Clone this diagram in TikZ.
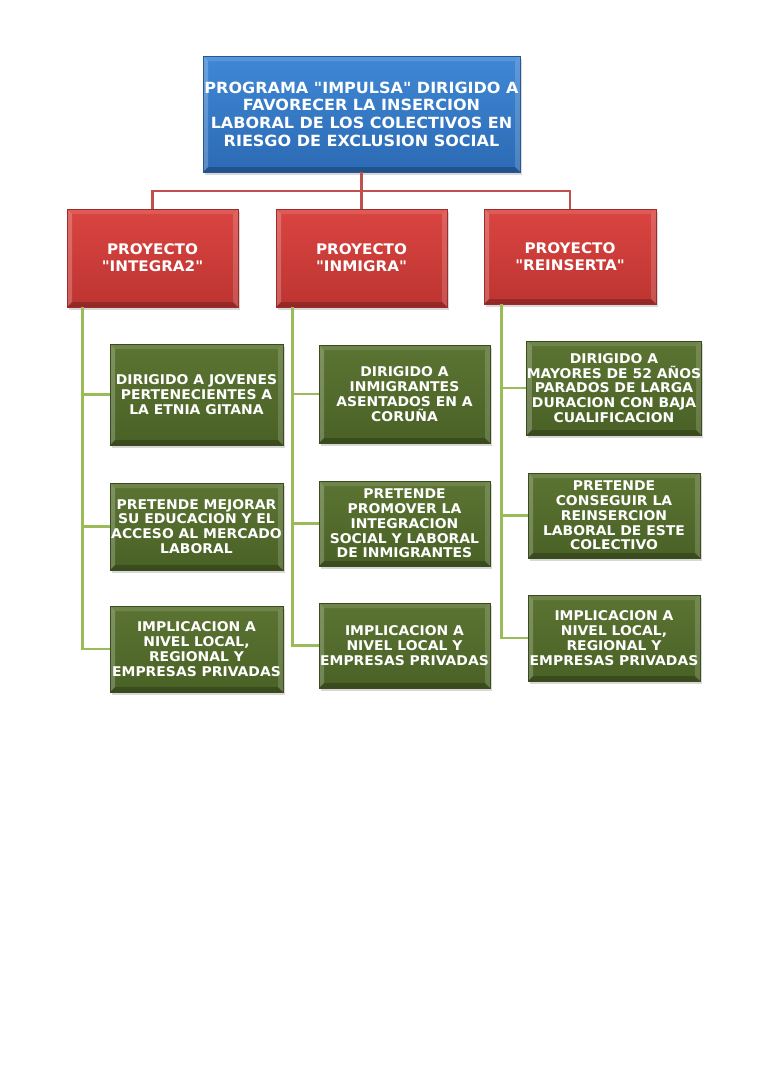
\documentclass[tikz,border=0pt]{standalone}
\usepackage{fontspec}
\newfontfamily\vfont[FakeStretch=1.04]{DejaVu Sans}
\usetikzlibrary{calc,shadows}
\definecolor{bluetop}{HTML}{3F88D6}
\definecolor{bluebot}{HTML}{2C6AB4}
\definecolor{blueedge}{HTML}{2A5790}
\definecolor{redtop}{HTML}{DA4541}
\definecolor{redbot}{HTML}{BD3431}
\definecolor{rededge}{HTML}{9C2C2A}
\definecolor{greentop}{HTML}{5B7432}
\definecolor{greenbot}{HTML}{4A6126}
\definecolor{greenedge}{HTML}{3A4C1D}
\definecolor{redline}{HTML}{C0504D}
\definecolor{greenline}{HTML}{9BBB59}
\tikzset{
  bevel/.style={path picture={
    \coordinate (bnw) at (path picture bounding box.north west);
    \coordinate (bne) at (path picture bounding box.north east);
    \coordinate (bsw) at (path picture bounding box.south west);
    \coordinate (bse) at (path picture bounding box.south east);
    \fill[white,opacity=0.22] (bnw) -- (bsw) -- ($(bsw)+(5pt,5pt)$) -- ($(bnw)+(5pt,-5pt)$) -- cycle;
    \fill[white,opacity=0.12] (bnw) -- (bne) -- ($(bne)+(-5pt,-5pt)$) -- ($(bnw)+(5pt,-5pt)$) -- cycle;
    \fill[white,opacity=0.16] (bne) -- (bse) -- ($(bse)+(-5pt,5pt)$) -- ($(bne)+(-5pt,-5pt)$) -- cycle;
    \fill[black,opacity=0.22] (bsw) -- (bse) -- ($(bse)+(-5pt,5pt)$) -- ($(bsw)+(5pt,5pt)$) -- cycle;
  }},
  basebox/.style={rectangle, inner sep=0pt, align=center, text=white,
    drop shadow={shadow xshift=1.5pt, shadow yshift=-2.5pt, opacity=0.3},
    bevel, line width=0.6pt},
  topbox/.style={basebox, draw=blueedge, top color=bluetop, bottom color=bluebot,
    minimum width=317pt, minimum height=116pt,
    font=\vfont\bfseries\fontsize{15.4}{17.6}\selectfont},
  projbox/.style={basebox, draw=rededge, top color=redtop, bottom color=redbot,
    minimum width=171pt, font=\vfont\bfseries\fontsize{14.6}{16.7}\selectfont},
  infobox/.style={basebox, draw=greenedge, top color=greentop, bottom color=greenbot,
    font=\vfont\bfseries\fontsize{13.4}{14.8}\selectfont},
  rline/.style={draw=redline, line width=2.8pt},
  gline/.style={draw=greenline, line width=2.8pt},
}
\begin{document}
\begin{tikzpicture}[x=1pt,y=-1pt]
\useasboundingbox[fill=white] (0,0) rectangle (768,1087);

\node[topbox] (top) at (361.5,114) {PROGRAMA "IMPULSA" DIRIGIDO A\\FAVORECER LA INSERCION\\LABORAL DE LOS COLECTIVOS EN\\RIESGO DE EXCLUSION SOCIAL};

\node[projbox, minimum height=98pt] (r1) at (152.5,258) {PROYECTO\\"INTEGRA2"};
\node[projbox, minimum height=98pt] (r2) at (361.5,258) {PROYECTO\\"INMIGRA"};
\node[projbox, minimum width=172pt, minimum height=95pt] (r3) at (570,256.5) {PROYECTO\\"REINSERTA"};

\coordinate (j) at (361.5,191);

% column 1
\node[infobox, minimum width=173pt, minimum height=101pt] (a1) at (196.5,394.5) {DIRIGIDO A JOVENES\\PERTENECIENTES A\\LA ETNIA GITANA};
\node[infobox, minimum width=173pt, minimum height=87pt] (b1) at (196.5,526.5) {PRETENDE MEJORAR\\SU EDUCACION Y EL\\ACCESO AL MERCADO\\LABORAL};
\node[infobox, minimum width=173pt, minimum height=86pt] (c1) at (196.5,649) {IMPLICACION A\\NIVEL LOCAL,\\REGIONAL Y\\EMPRESAS PRIVADAS};

% column 2
\node[infobox, minimum width=171pt, minimum height=98pt] (a2) at (404.5,394) {DIRIGIDO A\\INMIGRANTES\\ASENTADOS EN A\\CORUÑA};
\node[infobox, minimum width=171pt, minimum height=85pt] (b2) at (404.5,523.5) {PRETENDE\\PROMOVER LA\\INTEGRACION\\SOCIAL Y LABORAL\\DE INMIGRANTES};
\node[infobox, minimum width=171pt, minimum height=85pt] (c2) at (404.5,645.5) {IMPLICACION A\\NIVEL LOCAL Y\\EMPRESAS PRIVADAS};

% column 3
\node[infobox, minimum width=172pt, minimum height=94pt] (a3) at (614,388) {DIRIGIDO A\\MAYORES DE 52 AÑOS\\PARADOS DE LARGA\\DURACION CON BAJA\\CUALIFICACION};
\node[infobox, minimum width=172pt, minimum height=85pt] (b3) at (614,515.5) {PRETENDE\\CONSEGUIR LA\\REINSERCION\\LABORAL DE ESTE\\COLECTIVO};
\node[infobox, minimum width=172pt, minimum height=86pt] (c3) at (614,638) {IMPLICACION A\\NIVEL LOCAL,\\REGIONAL Y\\EMPRESAS PRIVADAS};

% red connectors
\draw[rline] (top.south) -- (r2.north);
\draw[rline] (r1.north) -- (r1.north |- j) -- (r3.north |- j) -- (r3.north);

% green connectors
\coordinate (g1) at ([xshift=16pt]r1.south west);
\coordinate (g2) at ([xshift=17pt]r2.south west);
\coordinate (g3) at ([xshift=18pt]r3.south west);
\draw[gline] (g1) |- (c1.west);
\draw[gline] (g1 |- a1.west) -- (a1.west);
\draw[gline] (g1 |- b1.west) -- (b1.west);
\draw[gline] (g2) |- (c2.west);
\draw[gline] (g2 |- a2.west) -- (a2.west);
\draw[gline] (g2 |- b2.west) -- (b2.west);
\draw[gline] (g3) |- (c3.west);
\draw[gline] (g3 |- a3.west) -- (a3.west);
\draw[gline] (g3 |- b3.west) -- (b3.west);
\end{tikzpicture}
\end{document}
